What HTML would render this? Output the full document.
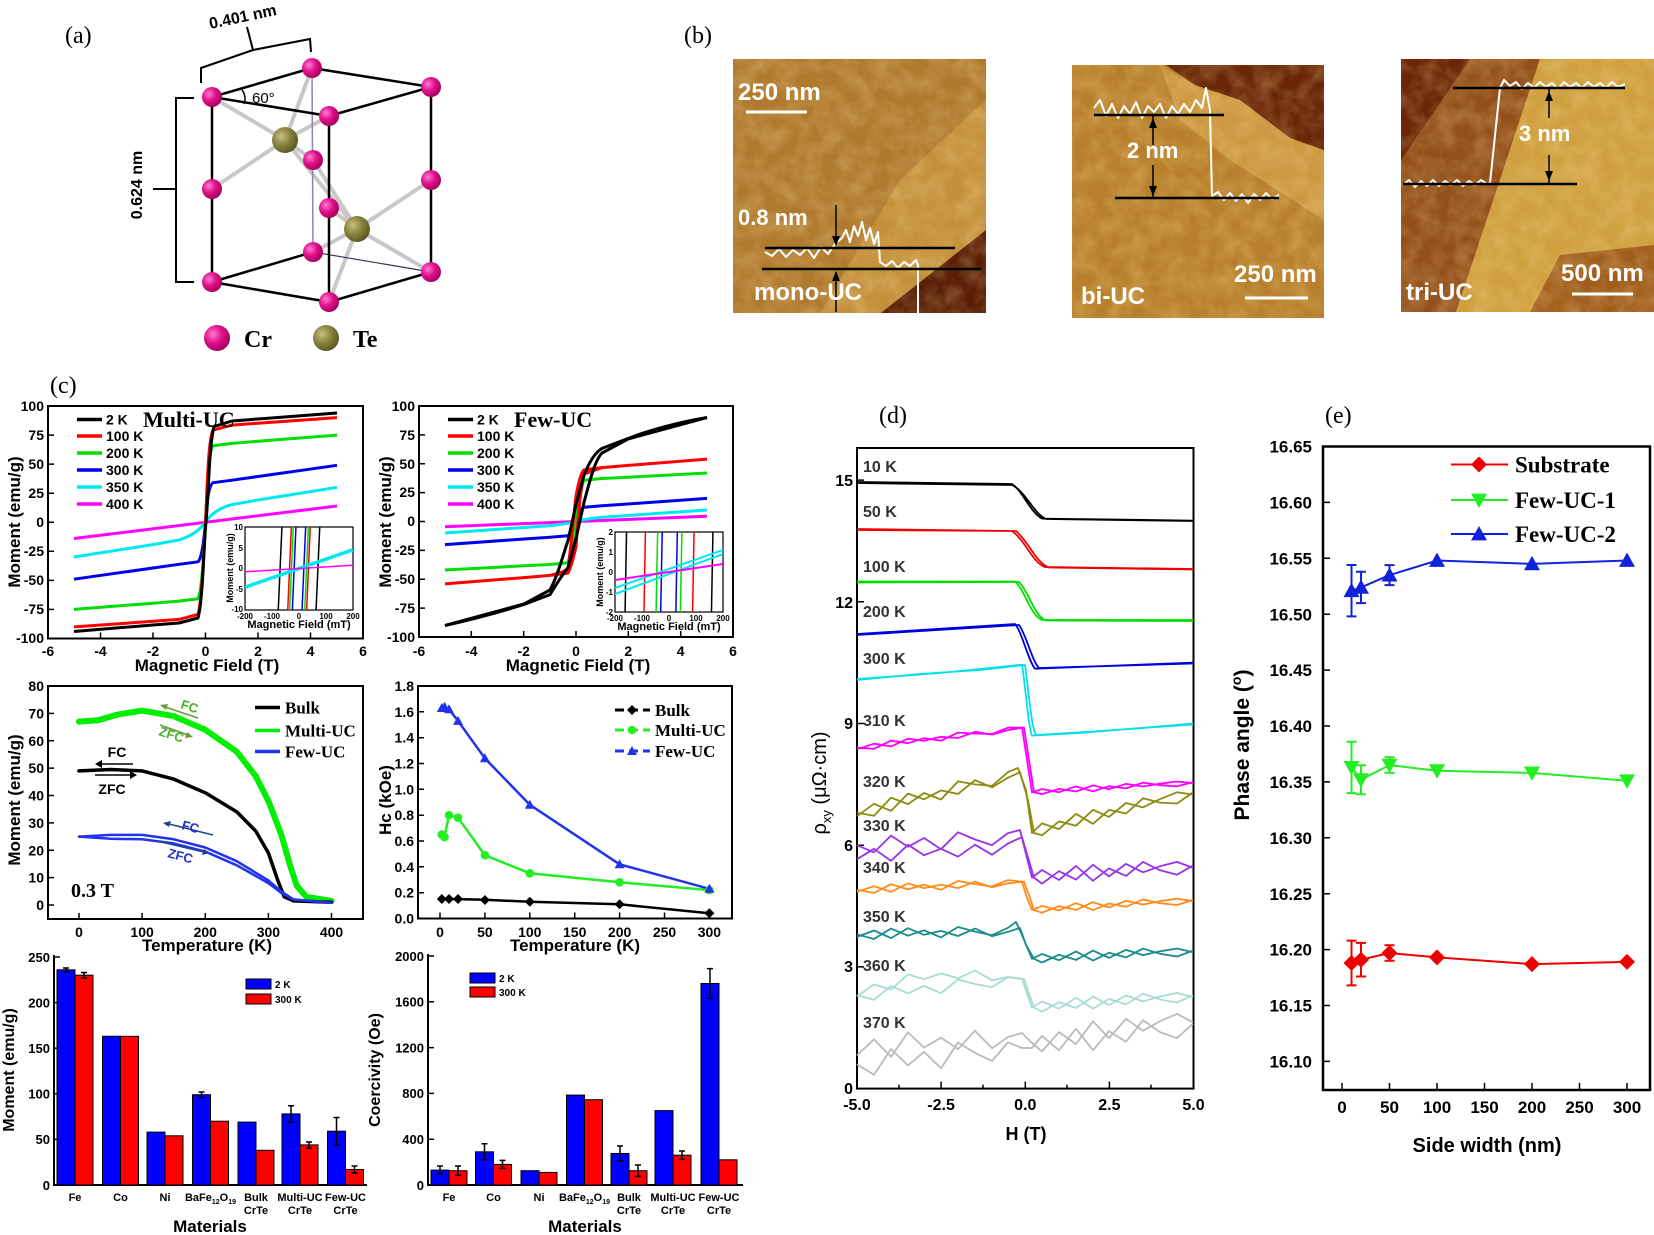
<!DOCTYPE html>
<html><head><meta charset="utf-8">
<style>
html,body{margin:0;padding:0;background:#fff;}
svg{display:block;}
text{font-family:"Liberation Sans",sans-serif;font-weight:bold;}
.sr{font-family:"Liberation Serif",serif;}
.n{font-weight:normal;}
</style></head>
<body>
<svg xmlns="http://www.w3.org/2000/svg" width="1654" height="1235" viewBox="0 0 1654 1235">
<defs>
<filter id="nz" x="0" y="0" width="100%" height="100%">
<feTurbulence type="fractalNoise" baseFrequency="0.055" numOctaves="3" seed="3"/>
<feColorMatrix type="matrix" values="0 0 0 0 0.95  0 0 0 0 0.75  0 0 0 0 0.35  0 0 0 1.4 -0.45"/>
</filter>
<radialGradient id="cr" cx="0.35" cy="0.35" r="0.7"><stop offset="0" stop-color="#ff7ad0"/><stop offset="0.5" stop-color="#e0108a"/><stop offset="1" stop-color="#a0005a"/></radialGradient>
<radialGradient id="te" cx="0.35" cy="0.35" r="0.7"><stop offset="0" stop-color="#c8c080"/><stop offset="0.5" stop-color="#8a8440"/><stop offset="1" stop-color="#5a5420"/></radialGradient>
<clipPath id="ci1"><rect x="245" y="527" width="108" height="83"/></clipPath>
<clipPath id="ci2"><rect x="615" y="532" width="108" height="80"/></clipPath>
</defs>

<!-- (a) -->
<text x="65" y="43" font-size="24" class="sr n">(a)</text>
<g stroke="#c8c8c8" stroke-width="4">
<line x1="285" y1="140" x2="312" y2="68"/><line x1="285" y1="140" x2="212" y2="97"/><line x1="285" y1="140" x2="329" y2="116"/><line x1="285" y1="140" x2="212" y2="189"/><line x1="285" y1="140" x2="313" y2="160"/><line x1="285" y1="140" x2="357" y2="229"/>
<line x1="357" y1="229" x2="329" y2="208"/><line x1="357" y1="229" x2="313" y2="252"/><line x1="357" y1="229" x2="431" y2="180"/><line x1="357" y1="229" x2="431" y2="272"/><line x1="357" y1="229" x2="329" y2="302"/><line x1="357" y1="229" x2="313" y2="160"/>
</g>
<line x1="312" y1="68" x2="313" y2="252" stroke="#8888aa" stroke-width="1.5"/>
<line x1="313" y1="252" x2="431" y2="272" stroke="#333355" stroke-width="1.2"/>
<g stroke="#000" stroke-width="2.5">
<line x1="312" y1="68" x2="212" y2="97"/><line x1="312" y1="68" x2="431" y2="87"/><line x1="212" y1="97" x2="329" y2="116"/><line x1="431" y1="87" x2="329" y2="116"/>
<line x1="212" y1="97" x2="212" y2="282"/><line x1="431" y1="87" x2="431" y2="272"/><line x1="329" y1="116" x2="329" y2="302"/>
<line x1="212" y1="282" x2="329" y2="302"/><line x1="212" y1="282" x2="313" y2="252"/><line x1="329" y1="302" x2="431" y2="272"/>
</g>
<g fill="url(#cr)">
<circle cx="312" cy="68" r="10"/><circle cx="212" cy="97" r="10"/><circle cx="431" cy="87" r="10"/><circle cx="329" cy="116" r="10"/>
<circle cx="212" cy="189" r="10"/><circle cx="313" cy="160" r="10"/><circle cx="431" cy="180" r="10"/><circle cx="329" cy="208" r="10"/>
<circle cx="212" cy="282" r="10"/><circle cx="313" cy="252" r="10"/><circle cx="431" cy="272" r="10"/><circle cx="329" cy="302" r="10"/>
</g>
<circle cx="285" cy="140" r="13" fill="url(#te)"/><circle cx="357" cy="229" r="13" fill="url(#te)"/>
<path d="M201,83 L201,68 L253,50 L310,39 L311,52 M253,50 L247,27" fill="none" stroke="#000" stroke-width="2"/>
<text x="243" y="22" font-size="16" text-anchor="middle" transform="rotate(-12 243 18)">0.401 nm</text>
<path d="M194,98 L176,98 L176,282 L194,282 M176,189 L153,189" fill="none" stroke="#000" stroke-width="2"/>
<text x="142" y="185" font-size="16" text-anchor="middle" transform="rotate(-90 142 185)">0.624 nm</text>
<path d="M242,90 A14,14 0 0 1 244,104" fill="none" stroke="#000" stroke-width="1.5"/>
<text x="252" y="103" font-size="15" class="n">60°</text>
<circle cx="217" cy="338" r="13" fill="url(#cr)"/><circle cx="326" cy="338" r="13" fill="url(#te)"/>
<text x="244" y="347" font-size="24" class="sr">Cr</text><text x="353" y="347" font-size="24" class="sr">Te</text>

<!-- (b) -->
<text x="684" y="43" font-size="24" class="sr n">(b)</text>
<rect x="733" y="59" width="253" height="254" fill="#b07a2e"/>
<polygon points="820,313 900,180 986,100 986,230 881,313" fill="#c99640" opacity="0.8"/>
<polygon points="881,313 986,230 986,313" fill="#5a1e05"/>
<rect x="733" y="59" width="253" height="254" filter="url(#nz)" opacity="0.35"/>
<rect x="1072" y="65" width="252" height="253" fill="#b8802c"/>
<polygon points="1160,65 1195,85 1240,100 1324,150 1324,220 1230,160 1180,120" fill="#d6a24a" opacity="0.7"/>
<polygon points="1166,65 1324,65 1324,150 1290,138 1240,100 1195,85" fill="#6a2606"/>
<rect x="1072" y="65" width="252" height="253" filter="url(#nz)" opacity="0.35"/>
<rect x="1401" y="59" width="253" height="253" fill="#d0a040"/>
<polygon points="1401,59 1540,59 1456,312 1401,312" fill="#93501a"/>
<polygon points="1401,59 1470,59 1401,160" fill="#6a2606"/>
<polygon points="1560,255 1654,245 1654,312 1530,312" fill="#a05e1c"/>
<rect x="1401" y="59" width="253" height="253" filter="url(#nz)" opacity="0.35"/>
<g fill="none" stroke="#fff" stroke-width="2" stroke-linejoin="round">
<polyline points="765,252 772,256 779,249 786,257 793,250 800,255 807,248 814,258 821,247 828,254 835,244 842,238 846,230 850,242 854,226 858,236 862,222 866,240 870,228 874,244 878,232 880,262 886,266 892,261 898,268 904,262 910,266 916,260 918,265 918,313 M924,262 930,268 936,260 942,267 948,262 954,268 960,261 966,266 972,262 981,266"/>
<polyline points="1094,108 1100,100 1106,116 1112,104 1118,118 1124,106 1130,114 1136,102 1142,118 1148,106 1154,112 1160,104 1166,118 1172,106 1178,114 1184,104 1190,112 1196,100 1202,108 1206,88 1210,110 1212,196 1218,192 1224,200 1230,193 1236,201 1242,194 1248,203 1254,194 1260,200 1266,193 1272,199 1279,195"/>
<polyline points="1403,185 1409,180 1415,187 1421,181 1427,186 1433,180 1439,186 1445,181 1451,185 1457,180 1463,186 1469,181 1475,185 1481,180 1487,184 1490,183 1500,88 1504,80 1510,86 1516,82 1522,89 1528,83 1534,88 1540,82 1546,87 1552,83 1558,89 1564,82 1570,87 1576,83 1582,88 1588,82 1594,87 1600,83 1606,88 1612,82 1618,87 1625,84"/>
</g>
<g stroke="#000" stroke-width="2.5"><line x1="765" y1="248" x2="955" y2="248"/><line x1="762" y1="269" x2="981" y2="269"/><line x1="1094" y1="115" x2="1224" y2="115"/><line x1="1115" y1="198" x2="1279" y2="198"/><line x1="1453" y1="88" x2="1625" y2="88"/><line x1="1403" y1="184" x2="1577" y2="184"/></g>
<g stroke="#000" stroke-width="1.5"><line x1="836" y1="205" x2="836" y2="244"/><line x1="836" y1="272" x2="836" y2="312"/><line x1="1153" y1="115" x2="1153" y2="145"/><line x1="1153" y1="165" x2="1153" y2="198"/><line x1="1549" y1="88" x2="1549" y2="118"/><line x1="1549" y1="155" x2="1549" y2="184"/></g>
<g fill="#000"><polygon points="836,246 832,236 840,236"/><polygon points="836,271 832,281 840,281"/><polygon points="1153,118 1149,128 1157,128"/><polygon points="1153,196 1149,186 1157,186"/><polygon points="1549,91 1545,101 1553,101"/><polygon points="1549,181 1545,171 1553,171"/></g>
<g fill="#fff" class="sr">
<text x="738" y="100" font-size="24">250 nm</text><text x="738" y="225" font-size="22">0.8 nm</text><text x="754" y="300" font-size="24">mono-UC</text>
<text x="1127" y="158" font-size="22">2 nm</text><text x="1234" y="282" font-size="24">250 nm</text><text x="1081" y="304" font-size="24">bi-UC</text>
<text x="1519" y="141" font-size="22">3 nm</text><text x="1561" y="281" font-size="24">500 nm</text><text x="1406" y="300" font-size="24">tri-UC</text>
</g>
<g stroke="#fff" stroke-width="3"><line x1="746" y1="112" x2="807" y2="112"/><line x1="1245" y1="298" x2="1308" y2="298"/><line x1="1572" y1="294" x2="1633" y2="294"/></g>

<!-- (c) -->
<text x="50" y="393" font-size="24" class="sr n">(c)</text>

<!-- c1 -->
<rect x="48" y="406" width="315" height="232.5" fill="none" stroke="#000" stroke-width="2"/>
<path d="M48,638.5v-6M100.5,638.5v-6M153,638.5v-6M205.5,638.5v-6M258,638.5v-6M310.5,638.5v-6M363,638.5v-6M48,435.1h6M48,464.1h6M48,493.2h6M48,522.3h6M48,551.3h6M48,580.4h6M48,609.4h6" stroke="#000" stroke-width="1.5"/>
<g font-size="14" text-anchor="middle"><text x="48" y="656">-6</text><text x="100.5" y="656">-4</text><text x="153" y="656">-2</text><text x="205.5" y="656">0</text><text x="258" y="656">2</text><text x="310.5" y="656">4</text><text x="363" y="656">6</text></g>
<g font-size="14" text-anchor="end"><text x="44" y="411">100</text><text x="44" y="440">75</text><text x="44" y="469">50</text><text x="44" y="498">25</text><text x="44" y="527">0</text><text x="44" y="556">-25</text><text x="44" y="585">-50</text><text x="44" y="614">-75</text><text x="44" y="643">-100</text></g>
<g fill="none" stroke-width="3" stroke-linejoin="round">
<path stroke="#ff00ff" d="M74,538.5 L337,506"/>
<path stroke="#00e8f0" d="M74,557 L153,544.6 L179,540 C192,536 200,530 205.5,522 C211,514 219,508 232,504.6 L258,500 L337,487.4"/>
<path stroke="#0000ee" d="M74,579.2 L153,568 L179,564.3 L198,561.8 C202,558 204,540 205.5,522 C207,504 208,486 213,482.7 L232,480.2 L258,476.5 L337,465.3"/>
<path stroke="#00dd00" d="M74,609.4 L153,603.2 L179,601.1 L198,598.7 C202,590 204,550 205.5,522 C207,494 208,452 213,445.8 L232,443.4 L258,441.3 L337,435.1"/>
<path stroke="#ff0000" d="M74,626.9 L153,621.3 L179,619.4 L198,614.4 C202,600 204,550 205.5,522 C207,494 208,440 213,430.1 L232,425.1 L258,423.2 L337,417.6"/>
<path stroke="#000" d="M74,631.5 L153,625 L179,623 L198,618 C203,600 204,540 206,522 C208,505 209,445 214,426.5 L232,421 L258,419 L337,413"/>
</g>
<g font-size="14"><line x1="77" y1="419.5" x2="102" y2="419.5" stroke="#000" stroke-width="3.5"/><text x="106" y="424.5">2 K</text>
<line x1="77" y1="436" x2="102" y2="436" stroke="#ff0000" stroke-width="3.5"/><text x="106" y="441">100 K</text>
<line x1="77" y1="453" x2="102" y2="453" stroke="#00dd00" stroke-width="3.5"/><text x="106" y="458">200 K</text>
<line x1="77" y1="470" x2="102" y2="470" stroke="#0000ee" stroke-width="3.5"/><text x="106" y="475">300 K</text>
<line x1="77" y1="487" x2="102" y2="487" stroke="#00e8f0" stroke-width="3.5"/><text x="106" y="492">350 K</text>
<line x1="77" y1="504" x2="102" y2="504" stroke="#ff00ff" stroke-width="3.5"/><text x="106" y="509">400 K</text></g>
<text x="143" y="427" font-size="22" class="sr">Multi-UC</text>
<text x="207" y="671" font-size="17" text-anchor="middle">Magnetic Field (T)</text>
<text x="20" y="522" font-size="17" text-anchor="middle" transform="rotate(-90 20 522)">Moment (emu/g)</text>
<rect x="245" y="527" width="108" height="83" fill="#fff" stroke="#000" stroke-width="1.2"/>
<g clip-path="url(#ci1)" stroke-width="1.5">
<line x1="315.7" y1="618" x2="320.1" y2="519" stroke="#000"/><line x1="277.9" y1="618" x2="282.3" y2="519" stroke="#000"/>
<line x1="306.3" y1="618" x2="310.6" y2="519" stroke="#ff0000"/><line x1="287.4" y1="618" x2="291.7" y2="519" stroke="#ff0000"/>
<line x1="304.4" y1="618" x2="308.7" y2="519" stroke="#00dd00"/><line x1="289.3" y1="618" x2="293.6" y2="519" stroke="#00dd00"/>
<line x1="301.7" y1="618" x2="306" y2="519" stroke="#0000ee"/><line x1="292" y1="618" x2="296.3" y2="519" stroke="#0000ee"/>
<line x1="245" y1="587.2" x2="353" y2="549.8" stroke="#00e8f0" stroke-width="3.5"/>
<line x1="245" y1="571.8" x2="353" y2="565.2" stroke="#ff00ff"/>
</g>
<g font-size="8" text-anchor="middle" class="n"><text x="245" y="619">-200</text><text x="272" y="619">-100</text><text x="299" y="619">0</text><text x="326" y="619">100</text><text x="353" y="619">200</text></g>
<g font-size="8" text-anchor="end" class="n"><text x="243" y="530">10</text><text x="243" y="551">5</text><text x="243" y="571">0</text><text x="243" y="592">-5</text><text x="243" y="612">-10</text></g>
<text x="299" y="628" font-size="11" text-anchor="middle">Magnetic Field (mT)</text>
<text x="233" y="568" font-size="9" text-anchor="middle" transform="rotate(-90 233 568)">Moment (emu/g)</text>

<!-- c2 -->
<rect x="419" y="406" width="314" height="231" fill="none" stroke="#000" stroke-width="2"/>
<path d="M419,637v-6M471.3,637v-6M523.7,637v-6M576,637v-6M628.3,637v-6M680.7,637v-6M733,637v-6M419,434.9h6M419,463.8h6M419,492.6h6M419,521.5h6M419,550.4h6M419,579.3h6M419,608.1h6" stroke="#000" stroke-width="1.5"/>
<g font-size="14" text-anchor="middle"><text x="419" y="656">-6</text><text x="471.3" y="656">-4</text><text x="523.7" y="656">-2</text><text x="576" y="656">0</text><text x="628.3" y="656">2</text><text x="680.7" y="656">4</text><text x="733" y="656">6</text></g>
<g font-size="14" text-anchor="end"><text x="415" y="411">100</text><text x="415" y="440">75</text><text x="415" y="469">50</text><text x="415" y="497">25</text><text x="415" y="526">0</text><text x="415" y="555">-25</text><text x="415" y="584">-50</text><text x="415" y="613">-75</text><text x="415" y="642">-100</text></g>
<g fill="none" stroke-width="3" stroke-linejoin="round">
<path stroke="#ff00ff" d="M445,526.7 L707,516.3"/>
<path stroke="#00e8f0" d="M445,533 L524,527.5 L550,525.7 C565,524 572,523 576,521.5 C580,520 587,519 602,517.3 L628,515.5 L707,510"/>
<path stroke="#0000ee" d="M445,544.6 L524,539 L550,537.2 L568,535.8 C572,532 574,526 576,518.7 C578,512 580,509 584,507.2 L602,505.8 L628,504 L707,498.4 M568,535.8 C572,534 574,530 576,524.3 C578,516 580,510 584,507.2"/>
<path stroke="#00dd00" d="M445,570 L524,565.8 L550,564.5 L568,562.8 C572,550 574,520 576,508.2 C578,495 580,485 584,480.2 L602,478.5 L628,477.2 L707,473 M568,562.8 C572,560 574,545 576,534.8 C578,512 580,490 584,480.2"/>
<path stroke="#ff0000" d="M445,583.9 L524,577.6 L550,575.4 C560,573 565,571 568,569 C572,540 574,510 576,496.2 C578,485 581,472 584,469.9 L602,467.6 L628,465.4 L707,459.1 M550,575.4 L568,573.1 C572,565 574,555 576,546.8 C578,520 580,490 584,474 L602,467.6"/>
<path stroke="#000" d="M445,625.5 L524,604 L550,590 C558,575 563,555 568,540.6 L576,504.5 L584,475.4 C590,460 596,452 602,448.4 L628,438.5 C650,430 680,422 707,417.5"/>
<path stroke="#000" d="M445,625.5 C470,620 500,612 524,604.5 L550,594.6 C556,585 562,575 568,567.6 L576,538.5 L584,502.4 C590,480 595,460 602,453 L628,439 L707,417.5"/>
</g>
<g font-size="14"><line x1="448" y1="419.5" x2="473" y2="419.5" stroke="#000" stroke-width="3.5"/><text x="477" y="424.5">2 K</text>
<line x1="448" y1="436" x2="473" y2="436" stroke="#ff0000" stroke-width="3.5"/><text x="477" y="441">100 K</text>
<line x1="448" y1="453" x2="473" y2="453" stroke="#00dd00" stroke-width="3.5"/><text x="477" y="458">200 K</text>
<line x1="448" y1="470" x2="473" y2="470" stroke="#0000ee" stroke-width="3.5"/><text x="477" y="475">300 K</text>
<line x1="448" y1="487" x2="473" y2="487" stroke="#00e8f0" stroke-width="3.5"/><text x="477" y="492">350 K</text>
<line x1="448" y1="504" x2="473" y2="504" stroke="#ff00ff" stroke-width="3.5"/><text x="477" y="509">400 K</text></g>
<text x="514" y="427" font-size="22" class="sr">Few-UC</text>
<text x="578" y="671" font-size="17" text-anchor="middle">Magnetic Field (T)</text>
<text x="391" y="522" font-size="17" text-anchor="middle" transform="rotate(-90 391 522)">Moment (emu/g)</text>
<rect x="615" y="532" width="108" height="80" fill="#fff" stroke="#000" stroke-width="1.2"/>
<g clip-path="url(#ci2)" stroke-width="1.5">
<line x1="711.4" y1="616" x2="713" y2="528" stroke="#000"/><line x1="625" y1="616" x2="626.6" y2="528" stroke="#000"/>
<line x1="692.5" y1="616" x2="694.1" y2="528" stroke="#ff0000"/><line x1="643.9" y1="616" x2="645.5" y2="528" stroke="#ff0000"/>
<line x1="680.3" y1="616" x2="682" y2="528" stroke="#00dd00"/><line x1="656" y1="616" x2="657.7" y2="528" stroke="#00dd00"/>
<line x1="675.8" y1="616" x2="677.4" y2="528" stroke="#0000ee"/><line x1="660.6" y1="616" x2="662.3" y2="528" stroke="#0000ee"/>
<line x1="615" y1="594" x2="723" y2="554" stroke="#00e8f0" stroke-width="2"/><line x1="615" y1="588" x2="723" y2="550" stroke="#00e8f0" stroke-width="2"/>
<line x1="615" y1="580" x2="723" y2="564" stroke="#ff00ff" stroke-width="2"/>
</g>
<g font-size="8" text-anchor="middle" class="n"><text x="615" y="621">-200</text><text x="642" y="621">-100</text><text x="669" y="621">0</text><text x="696" y="621">100</text><text x="723" y="621">200</text></g>
<g font-size="8" text-anchor="end" class="n"><text x="613" y="535">2</text><text x="613" y="555">1</text><text x="613" y="575">0</text><text x="613" y="595">-1</text><text x="613" y="615">-2</text></g>
<text x="669" y="630" font-size="11" text-anchor="middle">Magnetic Field (mT)</text>
<text x="603" y="572" font-size="9" text-anchor="middle" transform="rotate(-90 603 572)">Moment (emu/g)</text>

<!-- c3 -->
<rect x="48" y="686" width="315" height="233" fill="none" stroke="#000" stroke-width="2"/>
<path d="M79,919v-6M142.1,919v-6M205.3,919v-6M268.4,919v-6M331.5,919v-6M48,905h6M48,877.6h6M48,850.3h6M48,822.9h6M48,795.5h6M48,768.1h6M48,740.8h6M48,713.4h6" stroke="#000" stroke-width="1.5"/>
<g font-size="14" text-anchor="middle"><text x="79" y="937">0</text><text x="142.1" y="937">100</text><text x="205.3" y="937">200</text><text x="268.4" y="937">300</text><text x="331.5" y="937">400</text></g>
<g font-size="14" text-anchor="end"><text x="44" y="910">0</text><text x="44" y="882.6">10</text><text x="44" y="855.3">20</text><text x="44" y="827.9">30</text><text x="44" y="800.5">40</text><text x="44" y="773.1">50</text><text x="44" y="745.8">60</text><text x="44" y="718.4">70</text><text x="44" y="691">80</text></g>
<g fill="none" stroke-linejoin="round" stroke-linecap="round">
<polyline stroke="#00ee00" stroke-width="6" points="79,721.6 98,720.2 116.9,714.7 142.1,710.6 173.7,716.1 205.3,729.8 236.8,751.7 255.8,776.3 268.4,801 281,833.8 290.5,866.7 296.8,885.8 306.3,896.8 331.5,900.9"/>
<polyline stroke="#000" stroke-width="3.5" points="79,770.9 110.6,769.5 142.1,770.9 173.7,779.1 205.3,792.8 236.8,811.9 255.8,831.1 268.4,853 277.8,880.4 284.2,896.8 293.6,900.9 331.5,902.3"/>
<polyline stroke="#2233ee" stroke-width="2.5" points="79,836.6 110.6,834.9 142.1,834.9 173.7,839.3 205.3,847.5 236.8,861.2 268.4,880.4 281,891.3 293.6,899.5 331.5,902.8"/>
<polyline stroke="#2233ee" stroke-width="2.5" points="79,836.6 110.6,838.8 142.1,839.3 173.7,843.4 205.3,851.6 236.8,865.3 268.4,883.1 281,892.7 293.6,899.5 331.5,902.8"/>
</g>
<g stroke-width="1.5">
<line x1="198" y1="718" x2="162" y2="706" stroke="#6a9a3a"/><polygon points="160,705 168,704 166,710" fill="#6a9a3a"/>
<line x1="160" y1="725" x2="191" y2="736" stroke="#6a9a3a"/><polygon points="193,737 185,738 187,732" fill="#6a9a3a"/>
<line x1="133" y1="764" x2="97" y2="764" stroke="#000"/><polygon points="95,764 102,760 102,768" fill="#000"/>
<line x1="95" y1="775" x2="135" y2="775" stroke="#000"/><polygon points="137,775 130,771 130,779" fill="#000"/>
<line x1="213" y1="835" x2="165" y2="823" stroke="#224488"/><polygon points="163,823 171,821 169,827" fill="#224488"/>
<line x1="157" y1="841" x2="208" y2="853" stroke="#224488"/><polygon points="210,853 202,855 204,849" fill="#224488"/>
</g>
<g font-size="13" class="n">
<text x="180" y="708" fill="#4ab02a" transform="rotate(18 180 708)">FC</text>
<text x="158" y="735" fill="#4ab02a" transform="rotate(18 158 735)">ZFC</text>
<text x="117" y="757" font-size="14" text-anchor="middle">FC</text>
<text x="112" y="794" font-size="14" text-anchor="middle">ZFC</text>
<text x="181" y="829" fill="#2233cc" transform="rotate(15 181 829)">FC</text>
<text x="167" y="857" fill="#2233cc" transform="rotate(15 167 857)">ZFC</text>
</g>
<line x1="255" y1="707.5" x2="280" y2="707.5" stroke="#000" stroke-width="3.5"/><text x="285" y="713.5" font-size="17" class="sr">Bulk</text>
<line x1="255" y1="730.5" x2="280" y2="730.5" stroke="#00ee00" stroke-width="3.5"/><text x="285" y="736.5" font-size="17" class="sr">Multi-UC</text>
<line x1="255" y1="751.5" x2="280" y2="751.5" stroke="#2233ee" stroke-width="3.5"/><text x="285" y="757.5" font-size="17" class="sr">Few-UC</text>
<text x="71" y="897" font-size="20" class="sr">0.3 T</text>
<text x="207" y="951" font-size="17" text-anchor="middle">Temperature (K)</text>
<text x="20" y="800" font-size="17" text-anchor="middle" transform="rotate(-90 20 800)">Moment (emu/g)</text>

<!-- c4 -->
<rect x="418" y="686" width="314" height="232.5" fill="none" stroke="#000" stroke-width="2"/>
<path d="M440,918.5v-6M484.9,918.5v-6M529.8,918.5v-6M574.7,918.5v-6M619.6,918.5v-6M664.5,918.5v-6M709.4,918.5v-6M418,892.7h6M418,866.8h6M418,841h6M418,815.2h6M418,789.3h6M418,763.5h6M418,737.7h6M418,711.8h6" stroke="#000" stroke-width="1.5"/>
<g font-size="14" text-anchor="middle"><text x="440" y="937">0</text><text x="484.9" y="937">50</text><text x="529.8" y="937">100</text><text x="574.7" y="937">150</text><text x="619.6" y="937">200</text><text x="664.5" y="937">250</text><text x="709.4" y="937">300</text></g>
<g font-size="14" text-anchor="end"><text x="414" y="923.5">0.0</text><text x="414" y="897.7">0.2</text><text x="414" y="871.8">0.4</text><text x="414" y="846">0.6</text><text x="414" y="820.2">0.8</text><text x="414" y="794.3">1.0</text><text x="414" y="768.5">1.2</text><text x="414" y="742.7">1.4</text><text x="414" y="716.8">1.6</text><text x="414" y="691">1.8</text></g>
<g fill="none" stroke-width="2.5">
<polyline stroke="#000" points="441.8,899.1 444.5,899.1 449,899.1 458,899.1 484.9,899.8 529.8,901.7 619.6,904.3 709.4,913.3"/>
<polyline stroke="#22ee22" points="441.8,834.5 444.5,837.1 449,815.2 458,817.7 484.9,855.2 529.8,873.3 619.6,882.3 709.4,890.1"/>
<polyline stroke="#2233ee" points="441.8,708 444.5,706.7 449,709.3 458,720.9 484.9,758.3 529.8,804.8 619.6,864.3 709.4,888.8"/>
</g>
<g fill="#000"><polygon points="441.8,894 446.8,899 441.8,904 436.8,899"/><polygon points="449,894 454,899 449,904 444,899"/><polygon points="458,894 463,899 458,904 453,899"/><polygon points="484.9,895 489.9,900 484.9,905 479.9,900"/><polygon points="529.8,896.7 534.8,901.7 529.8,906.7 524.8,901.7"/><polygon points="619.6,899.3 624.6,904.3 619.6,909.3 614.6,904.3"/><polygon points="709.4,908.3 714.4,913.3 709.4,918.3 704.4,913.3"/></g>
<g fill="#22ee22"><circle cx="441.8" cy="834.5" r="4.3"/><circle cx="444.5" cy="837.1" r="4.3"/><circle cx="449" cy="815.2" r="4.3"/><circle cx="458" cy="817.7" r="4.3"/><circle cx="484.9" cy="855.2" r="4.3"/><circle cx="529.8" cy="873.3" r="4.3"/><circle cx="619.6" cy="882.3" r="4.3"/><circle cx="709.4" cy="890.1" r="4.3"/></g>
<g fill="#2233ee"><polygon points="441.8,703 446.8,712 436.8,712"/><polygon points="444.5,701.7 449.5,710.7 439.5,710.7"/><polygon points="449,704.3 454,713.3 444,713.3"/><polygon points="458,715.9 463,724.9 453,724.9"/><polygon points="484.9,753.3 489.9,762.3 479.9,762.3"/><polygon points="529.8,799.8 534.8,808.8 524.8,808.8"/><polygon points="619.6,859.3 624.6,868.3 614.6,868.3"/><polygon points="709.4,883.8 714.4,892.8 704.4,892.8"/></g>
<line x1="615" y1="710" x2="650" y2="710" stroke="#000" stroke-width="3" stroke-dasharray="9,5"/><polygon points="632,705 637,710 632,715 627,710" fill="#000"/><text x="655" y="716" font-size="17" class="sr">Bulk</text>
<line x1="615" y1="730" x2="650" y2="730" stroke="#22ee22" stroke-width="3" stroke-dasharray="9,5"/><circle cx="632" cy="730" r="4.3" fill="#22ee22"/><text x="655" y="736" font-size="17" class="sr">Multi-UC</text>
<line x1="615" y1="751" x2="650" y2="751" stroke="#2233ee" stroke-width="3" stroke-dasharray="9,5"/><polygon points="632,746 637,755 627,755" fill="#2233ee"/><text x="655" y="757" font-size="17" class="sr">Few-UC</text>
<text x="575" y="951" font-size="17" text-anchor="middle">Temperature (K)</text>
<text x="391" y="800" font-size="17" text-anchor="middle" transform="rotate(-90 391 800)">Hc (kOe)</text>

<!-- c5 -->
<path d="M54,955V1185H367" fill="none" stroke="#000" stroke-width="2"/>
<path d="M54,1139.4h6M54,1093.8h6M54,1048.2h6M54,1002.6h6M54,957h6" stroke="#000" stroke-width="1.5"/>
<g font-size="13" text-anchor="end"><text x="50" y="1190">0</text><text x="50" y="1144">50</text><text x="50" y="1098.5">100</text><text x="50" y="1053">150</text><text x="50" y="1007.5">200</text><text x="50" y="962">250</text></g>
<g stroke="#000" stroke-width="1">
<rect x="57" y="969.8" width="18" height="215.2" fill="#0000ff"/><rect x="75" y="975.2" width="18" height="209.8" fill="#ff0000"/>
<rect x="102.5" y="1036.3" width="18" height="148.7" fill="#0000ff"/><rect x="120.5" y="1036.3" width="18" height="148.7" fill="#ff0000"/>
<rect x="147" y="1132.1" width="18" height="52.9" fill="#0000ff"/><rect x="165" y="1135.8" width="18" height="49.2" fill="#ff0000"/>
<rect x="192.5" y="1094.7" width="18" height="90.3" fill="#0000ff"/><rect x="210.5" y="1121.2" width="18" height="63.8" fill="#ff0000"/>
<rect x="238" y="1122.1" width="18" height="62.9" fill="#0000ff"/><rect x="256" y="1150.3" width="18" height="34.7" fill="#ff0000"/>
<rect x="282" y="1113.9" width="18" height="71.1" fill="#0000ff"/><rect x="300" y="1144.9" width="18" height="40.1" fill="#ff0000"/>
<rect x="327.5" y="1131.2" width="18" height="53.8" fill="#0000ff"/><rect x="345.5" y="1169.5" width="18" height="15.5" fill="#ff0000"/>
</g>
<path d="M66,968v4M63,968h6M63,972h6M84,972.5v5.5M81,972.5h6M81,978h6M201.5,1092v5.5M198.5,1092h6M198.5,1097.5h6M291,1105.7v16.4M288,1105.7h6M288,1122.1h6M309,1142v6M306,1142h6M306,1148h6M336.5,1117.5v27.4M333.5,1117.5h6M333.5,1144.9h6M354.5,1166v7M351.5,1166h6M351.5,1173h6" stroke="#000" stroke-width="1.5" fill="none"/>
<g font-size="11" text-anchor="middle"><text x="75" y="1201">Fe</text><text x="120.5" y="1201">Co</text><text x="165" y="1201">Ni</text><text x="210.5" y="1201">BaFe<tspan font-size="7" dy="3">12</tspan><tspan dy="-3">O</tspan><tspan font-size="7" dy="3">19</tspan></text><text x="256" y="1201">Bulk</text><text x="256" y="1214">CrTe</text><text x="300" y="1201">Multi-UC</text><text x="300" y="1214">CrTe</text><text x="345.5" y="1201">Few-UC</text><text x="345.5" y="1214">CrTe</text></g>
<text x="210" y="1232" font-size="17" text-anchor="middle">Materials</text>
<text x="14" y="1070" font-size="16" text-anchor="middle" transform="rotate(-90 14 1070)">Moment (emu/g)</text>
<rect x="246" y="979" width="25" height="10" fill="#0000ff" stroke="#000"/><rect x="246" y="994" width="25" height="10" fill="#ff0000" stroke="#000"/>
<text x="275" y="988" font-size="10">2 K</text><text x="275" y="1003" font-size="10">300 K</text>

<!-- c6 -->
<path d="M428,954V1185H743" fill="none" stroke="#000" stroke-width="2"/>
<path d="M428,1139.2h6M428,1093.4h6M428,1047.6h6M428,1001.8h6M428,956h6" stroke="#000" stroke-width="1.5"/>
<g font-size="13" text-anchor="end"><text x="424" y="1190">0</text><text x="424" y="1144">400</text><text x="424" y="1098">800</text><text x="424" y="1052.5">1200</text><text x="424" y="1006.5">1600</text><text x="424" y="961">2000</text></g>
<g stroke="#000" stroke-width="1">
<rect x="431" y="1170.1" width="18" height="14.9" fill="#0000ff"/><rect x="449" y="1170.7" width="18" height="14.3" fill="#ff0000"/>
<rect x="475.5" y="1151.8" width="18" height="33.2" fill="#0000ff"/><rect x="493.5" y="1164.4" width="18" height="20.6" fill="#ff0000"/>
<rect x="521" y="1170.7" width="18" height="14.3" fill="#0000ff"/><rect x="539" y="1172.4" width="18" height="12.6" fill="#ff0000"/>
<rect x="566.5" y="1095.1" width="18" height="89.9" fill="#0000ff"/><rect x="584.5" y="1099.7" width="18" height="85.3" fill="#ff0000"/>
<rect x="611" y="1153.5" width="18" height="31.5" fill="#0000ff"/><rect x="629" y="1170.7" width="18" height="14.3" fill="#ff0000"/>
<rect x="655" y="1110.6" width="18" height="74.4" fill="#0000ff"/><rect x="673" y="1155.2" width="18" height="29.8" fill="#ff0000"/>
<rect x="701" y="983.5" width="18" height="201.5" fill="#0000ff"/><rect x="719" y="1159.8" width="18" height="25.2" fill="#ff0000"/>
</g>
<path d="M440,1166v8M437,1166h6M437,1174h6M458,1166v9.4M455,1166h6M455,1175.4h6M484.5,1143.8v16M481.5,1143.8h6M481.5,1159.8h6M502.5,1160.4v8M499.5,1160.4h6M499.5,1168.4h6M620,1146v15M617,1146h6M617,1161h6M638,1165v11.4M635,1165h6M635,1176.4h6M682,1151v8.4M679,1151h6M679,1159.4h6M710,968.6v29.8M707,968.6h6M707,998.4h6" stroke="#000" stroke-width="1.5" fill="none"/>
<g font-size="11" text-anchor="middle"><text x="449" y="1201">Fe</text><text x="493.5" y="1201">Co</text><text x="539" y="1201">Ni</text><text x="584.5" y="1201">BaFe<tspan font-size="7" dy="3">12</tspan><tspan dy="-3">O</tspan><tspan font-size="7" dy="3">19</tspan></text><text x="629" y="1201">Bulk</text><text x="629" y="1214">CrTe</text><text x="673" y="1201">Multi-UC</text><text x="673" y="1214">CrTe</text><text x="719" y="1201">Few-UC</text><text x="719" y="1214">CrTe</text></g>
<text x="585" y="1232" font-size="17" text-anchor="middle">Materials</text>
<text x="380" y="1070" font-size="16" text-anchor="middle" transform="rotate(-90 380 1070)">Coercivity (Oe)</text>
<rect x="470" y="973" width="25" height="10" fill="#0000ff" stroke="#000"/><rect x="470" y="987" width="25" height="10" fill="#ff0000" stroke="#000"/>
<text x="499" y="982" font-size="10">2 K</text><text x="499" y="996" font-size="10">300 K</text>

<!-- (d) -->
<text x="879" y="423" font-size="24" class="sr n">(d)</text>
<rect x="857" y="448" width="336.5" height="640.6" fill="none" stroke="#000" stroke-width="2"/>
<path d="M857,1088.6v-7M941.1,1088.6v-7M1025.3,1088.6v-7M1109.4,1088.6v-7M1193.5,1088.6v-7M899,1088.6v-4M983,1088.6v-4M1067,1088.6v-4M1151,1088.6v-4M857,966.9h7M857,845.2h7M857,723.5h7M857,601.8h7M857,480.1h7" stroke="#000" stroke-width="1.5"/>
<g font-size="16" text-anchor="middle"><text x="857" y="1110">-5.0</text><text x="941.1" y="1110">-2.5</text><text x="1025.3" y="1110">0.0</text><text x="1109.4" y="1110">2.5</text><text x="1193.5" y="1110">5.0</text></g>
<g font-size="16" text-anchor="end"><text x="853" y="1094">0</text><text x="853" y="972">3</text><text x="853" y="851">6</text><text x="853" y="729">9</text><text x="853" y="608">12</text><text x="853" y="486">15</text></g>
<g fill="none" stroke-width="1.8" stroke-linejoin="round">
<path stroke="#000" d="M857,482 L1012,484 C1022,490 1030,512 1042,518.6 L1193,520.6 M857,483 L1012,485 C1026,492 1034,514 1046,519 L1193,521"/>
<path stroke="#ee0000" d="M857,529 L1012,531 C1025,540 1032,562 1045,567 L1193,569 M857,530 L1016,531 C1029,542 1036,563 1049,567.5 L1193,569.5"/>
<path stroke="#00dd00" d="M857,581.5 L1015,581.5 C1025,590 1030,615 1042,620 L1193,620 M857,582.5 L1019,582 C1029,592 1034,616 1046,620.5 L1193,621"/>
<path stroke="#0000dd" d="M857,634 L1015,624 C1022,632 1028,660 1035,668.7 L1193,662.6 M857,635 L1019,625 C1026,634 1032,661 1039,668 L1193,663.5"/>
<path stroke="#00e0ea" d="M857,679 L900,676 L940,673 L990,668 L1022,664.6 C1026,690 1028,725 1032,735.6 L1080,733 L1140,728 L1193,723.5 M857,680 L920,674 L980,670 L1025,665 C1029,692 1031,726 1036,735 L1100,731 L1193,724.5"/>
<polyline stroke="#ff00ff" points="857,747.8 874,748.8 891,740.7 908,743.2 924,738.2 941,740.7 958,732.6 975,733.6 992,734 1008,727.7 1022,727.5 1032,792.4 1042,789 1059,792.2 1076,786.4 1093,791.4 1109,786.2 1126,788.4 1143,782.6 1160,785.2 1177,786.3 1193,782.3"/>
<polyline stroke="#ff00ff" points="857,749.3 874,743.7 891,746.4 908,738.7 924,740.9 941,736.8 958,738 975,731.8 992,734.6 1008,730.1 1024,727.5 1034,792.4 1042,794.1 1059,788.9 1076,791.5 1093,785.4 1109,789.2 1126,783.9 1143,786.5 1160,783.7 1177,781.5 1193,783.2"/>
<polyline stroke="#8b8b10" points="857,812.7 874,815.7 891,797.6 908,804.1 924,793 941,799.5 958,781.4 975,784.4 992,785.9 1008,772.1 1018,768 1026,790 1032,833 1042,823.4 1059,829.1 1076,813.8 1093,823.8 1109,809.9 1126,813.5 1143,798.3 1160,802.6 1177,803.5 1193,792.4"/>
<polyline stroke="#8b8b10" points="857,816.2 874,803.8 891,810.9 908,793.6 924,799.3 941,790.4 958,794 975,780.2 992,787.3 1008,777.7 1020,772.2 1028,800 1034,833 1042,835.3 1059,821.4 1076,825.7 1093,809.8 1109,816.9 1126,803 1143,807.4 1160,799.1 1177,792.3 1193,794.5"/>
<polyline stroke="#9a33e6" points="857,845.2 874,852.4 891,835.6 908,846.8 924,838 941,849.2 958,832.3 975,839.5 992,845.1 1008,833.1 1020,830 1025,850 1032,877.6 1042,870 1059,880 1076,866 1093,880.8 1109,868.4 1126,875.9 1143,861.9 1160,870.3 1177,874.7 1193,865.5"/>
<polyline stroke="#9a33e6" points="857,859.2 874,848.8 891,860.8 908,844.8 924,855.2 941,848.8 958,856.7 975,844.7 992,854.7 1008,843.5 1022,837.1 1034,877.6 1042,883.6 1059,871.2 1076,879.6 1093,864.8 1109,876.4 1126,863.9 1143,872.3 1160,866.3 1177,861.9 1193,867.9"/>
<polyline stroke="#ff8c1a" points="857,889.8 874,893 891,884.2 908,889.4 924,884.6 941,889.8 958,880.9 975,884.1 992,886.5 1008,880.1 1022,881.7 1026,895 1032,910.1 1042,905.9 1059,910.5 1076,903.1 1093,910.1 1109,903.5 1126,906.8 1143,899.4 1160,903.2 1177,905 1193,900"/>
<polyline stroke="#ff8c1a" points="857,891.8 874,886.2 891,891.8 908,883.4 924,888.2 941,884.6 958,888.1 975,881.7 992,887.3 1008,883.3 1024,881.7 1030,898 1034,910.1 1042,912.7 1059,906.1 1076,909.9 1093,902.1 1109,907.5 1126,900.8 1143,904.6 1160,901.2 1177,898.6 1193,901.2"/>
<polyline stroke="#1a8c8c" points="857,934.4 874,939 891,928.6 908,935.7 924,930.3 941,937.4 958,927 975,931.6 992,935.2 1008,927.8 1016,922 1022,935 1032,958.8 1042,954 1059,960.2 1076,951.4 1093,960.6 1109,952.8 1126,957.4 1143,948.6 1160,953.8 1177,956.5 1193,950.7"/>
<polyline stroke="#1a8c8c" points="857,936.9 874,930.5 891,938.1 908,928.2 924,934.8 941,930.9 958,936 975,928.6 992,936.2 1008,931.8 1020,928 1026,945 1034,958.8 1042,962.5 1059,954.7 1076,959.9 1093,950.6 1109,957.8 1126,949.9 1143,955.1 1160,951.3 1177,948.5 1193,952.2"/>
<polyline stroke="#a8dcd2" points="857,995.3 874,999.7 891,986.1 908,993.4 924,985.8 941,993.2 958,979.6 975,984 992,987.1 1008,977.1 1022,979.1 1032,1007.5 1042,1001.5 1059,1008.7 1076,997.8 1093,1008.6 1109,999 1126,1004.4 1143,993.6 1160,999.5 1177,1002.5 1193,995.3"/>
<polyline stroke="#a8dcd2" points="857,996.3 874,984.5 891,989.5 908,974.4 924,979.2 941,973.4 958,978.4 975,970.4 992,980.3 1008,976.9 1024,979.1 1034,1007.5 1042,1011.7 1059,1002.1 1076,1008 1093,996.6 1109,1005 1126,995.4 1143,1001.4 1160,996.5 1177,992.9 1193,997.1"/>
<polyline stroke="#bbbbbb" points="857,1064.3 874,1074.7 891,1049 908,1065.4 924,1051.8 941,1068.2 958,1042.5 975,1052.9 992,1060.9 1008,1042.4 1022,1048 1032,1048 1042,1036 1059,1050.3 1076,1028.7 1093,1050.3 1109,1031.1 1126,1041.8 1143,1020.2 1160,1032.2 1177,1038.1 1193,1023.7"/>
<polyline stroke="#bbbbbb" points="857,1055.3 874,1039.3 891,1056.8 908,1032.4 924,1047.6 941,1037.6 958,1049.1 975,1030.7 992,1048.3 1008,1037 1022,1033 1032,1043 1042,1051.4 1059,1032.1 1076,1044.1 1093,1021.3 1109,1038.1 1126,1018.8 1143,1030.8 1160,1021.2 1177,1013.9 1193,1022.3"/>
</g>
<g font-size="16" fill="#333"><text x="863" y="472">10 K</text><text x="863" y="517">50 K</text><text x="863" y="572">100 K</text><text x="863" y="617">200 K</text><text x="863" y="664">300 K</text><text x="863" y="726">310 K</text><text x="863" y="787">320 K</text><text x="863" y="831">330 K</text><text x="863" y="873">340 K</text><text x="863" y="922">350 K</text><text x="863" y="971">360 K</text><text x="863" y="1028">370 K</text></g>
<text x="1026" y="1140" font-size="18" text-anchor="middle">H (T)</text>
<text x="826" y="783" font-size="20" class="n" text-anchor="middle" transform="rotate(-90 826 783)">ρ<tspan font-size="13" dy="5">xy</tspan><tspan dy="-5"> (μΩ·cm)</tspan></text>

<!-- (e) -->
<text x="1325" y="423" font-size="24" class="sr n">(e)</text>
<rect x="1323" y="446.5" width="327" height="643.5" fill="none" stroke="#000" stroke-width="2.5"/>
<path d="M1342,1090v-7M1389.5,1090v-7M1437,1090v-7M1484.5,1090v-7M1532,1090v-7M1579.5,1090v-7M1627,1090v-7M1323,1061.4h7M1323,1005.5h7M1323,949.6h7M1323,893.7h7M1323,837.8h7M1323,781.9h7M1323,726h7M1323,670.1h7M1323,614.2h7M1323,558.3h7M1323,502.4h7" stroke="#000" stroke-width="1.5"/>
<g font-size="17" text-anchor="middle"><text x="1342" y="1113">0</text><text x="1389.5" y="1113">50</text><text x="1437" y="1113">100</text><text x="1484.5" y="1113">150</text><text x="1532" y="1113">200</text><text x="1579.5" y="1113">250</text><text x="1627" y="1113">300</text></g>
<g font-size="17" text-anchor="end"><text x="1312" y="1067.5">16.10</text><text x="1312" y="1011.6">16.15</text><text x="1312" y="955.7">16.20</text><text x="1312" y="899.8">16.25</text><text x="1312" y="843.9">16.30</text><text x="1312" y="788">16.35</text><text x="1312" y="732.1">16.40</text><text x="1312" y="676.2">16.45</text><text x="1312" y="620.3">16.50</text><text x="1312" y="564.4">16.55</text><text x="1312" y="508.5">16.60</text><text x="1312" y="452.6">16.65</text></g>
<g fill="none" stroke-width="2">
<polyline stroke="#ee0000" points="1351.5,963 1361,959.7 1389.5,953 1437,957.4 1532,964.1 1627,961.9"/>
<path stroke="#ee0000" d="M1351.5,940.6v44.8M1346.5,940.6h10M1346.5,985.4h10M1361,942.9v33.6M1356,942.9h10M1356,976.5h10M1389.5,945.2v15.6M1384.5,945.2h10M1384.5,960.8h10"/>
<polyline stroke="#22ee22" points="1351.5,767.4 1361,779.7 1389.5,765.1 1437,770.7 1532,772.9 1627,780.8"/>
<path stroke="#22ee22" d="M1351.5,741.7v51.4M1346.5,741.7h10M1346.5,793.1h10M1361,765.2v29M1356,765.2h10M1356,794.2h10M1389.5,757.3v15.6M1384.5,757.3h10M1384.5,772.9h10"/>
<polyline stroke="#1122dd" points="1351.5,590.7 1361,587.4 1389.5,575.1 1437,560.5 1532,563.9 1627,560.5"/>
<path stroke="#1122dd" d="M1351.5,565v51.4M1346.5,565h10M1346.5,616.4h10M1361,571.7v31.4M1356,571.7h10M1356,603.1h10M1389.5,565.1v20M1384.5,565.1h10M1384.5,585.1h10"/>
</g>
<g fill="#ee0000"><polygon points="1351.5,955 1359.5,963 1351.5,971 1343.5,963"/><polygon points="1361,951.7 1369,959.7 1361,967.7 1353,959.7"/><polygon points="1389.5,945 1397.5,953 1389.5,961 1381.5,953"/><polygon points="1437,949.4 1445,957.4 1437,965.4 1429,957.4"/><polygon points="1532,956.1 1540,964.1 1532,972.1 1524,964.1"/><polygon points="1627,953.9 1635,961.9 1627,969.9 1619,961.9"/></g>
<g fill="#22ee22"><polygon points="1351.5,775.4 1359.5,761 1343.5,761"/><polygon points="1361,787.7 1369,773.3 1353,773.3"/><polygon points="1389.5,773.1 1397.5,758.7 1381.5,758.7"/><polygon points="1437,778.7 1445,764.3 1429,764.3"/><polygon points="1532,780.9 1540,766.5 1524,766.5"/><polygon points="1627,788.8 1635,774.4 1619,774.4"/></g>
<g fill="#1122dd"><polygon points="1351.5,582.7 1359.5,597.1 1343.5,597.1"/><polygon points="1361,579.4 1369,593.8 1353,593.8"/><polygon points="1389.5,567.1 1397.5,581.5 1381.5,581.5"/><polygon points="1437,552.5 1445,566.9 1429,566.9"/><polygon points="1532,555.9 1540,570.3 1524,570.3"/><polygon points="1627,552.5 1635,566.9 1619,566.9"/></g>
<line x1="1451" y1="464.5" x2="1508" y2="464.5" stroke="#ee0000" stroke-width="2"/><polygon points="1479,456.5 1487,464.5 1479,472.5 1471,464.5" fill="#ee0000"/>
<line x1="1451" y1="500" x2="1508" y2="500" stroke="#22ee22" stroke-width="2"/><polygon points="1479,508 1487,493.6 1471,493.6" fill="#22ee22"/>
<line x1="1451" y1="534" x2="1508" y2="534" stroke="#1122dd" stroke-width="2"/><polygon points="1479,526 1487,540.4 1471,540.4" fill="#1122dd"/>
<text x="1515" y="472.5" font-size="23" class="sr">Substrate</text>
<text x="1515" y="508" font-size="23" class="sr">Few-UC-1</text>
<text x="1515" y="542" font-size="23" class="sr">Few-UC-2</text>
<text x="1487" y="1152" font-size="20" text-anchor="middle">Side width (nm)</text>
<text x="1249" y="745" font-size="21" text-anchor="middle" transform="rotate(-90 1249 745)">Phase  angle (<tspan font-size="14" dy="-8">o</tspan><tspan dy="8">)</tspan></text>
</svg>
</body></html>
